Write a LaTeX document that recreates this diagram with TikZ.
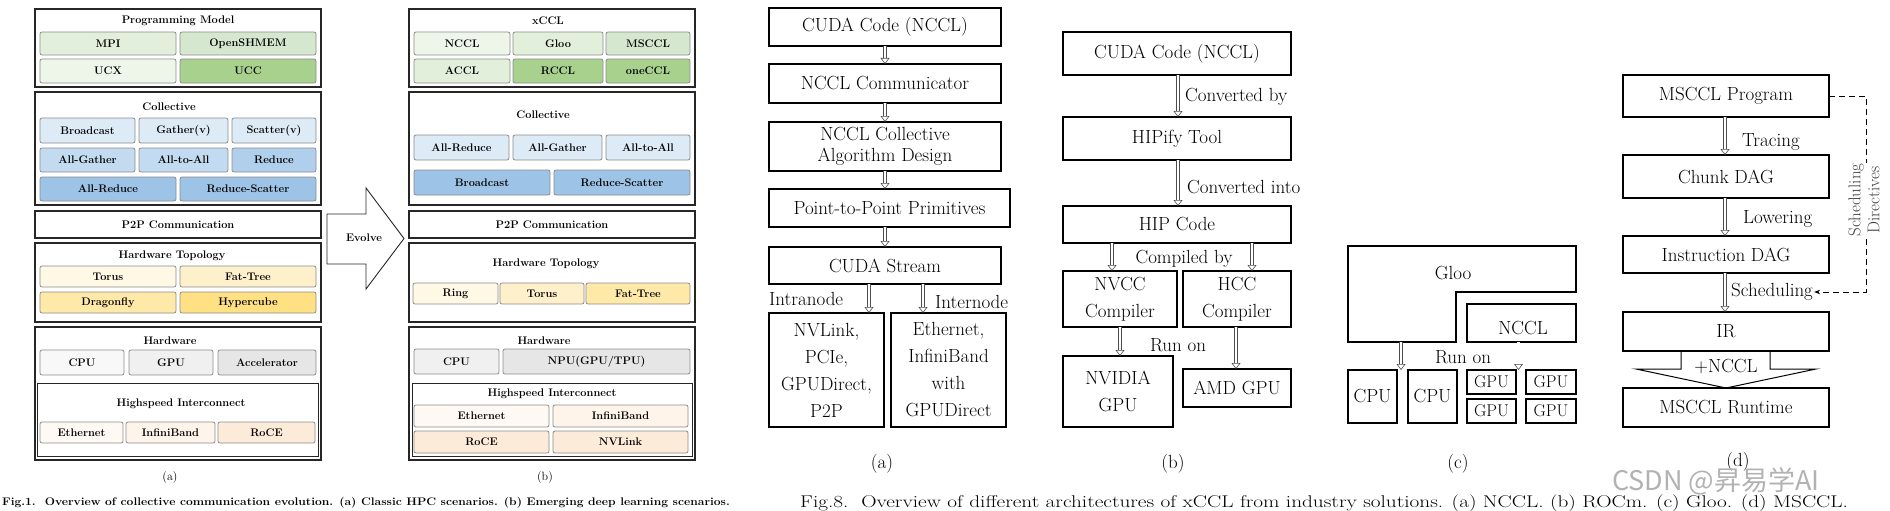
\documentclass[tikz,border=0pt]{standalone}
\usepackage{fontspec}
\usepackage{graphicx}
\newfontfamily\cjk{Noto Sans CJK SC}
\usetikzlibrary{arrows.meta,calc}
\definecolor{gA}{HTML}{E2EFDA}\definecolor{gB}{HTML}{D5E8CF}\definecolor{gC}{HTML}{EEF6EA}\definecolor{gD}{HTML}{A9D18E}
\definecolor{bA}{HTML}{DDEBF7}\definecolor{bB}{HTML}{C3DBF1}\definecolor{bC}{HTML}{B0CFEC}\definecolor{bD}{HTML}{9DC3E6}
\definecolor{yA}{HTML}{FFF8E5}\definecolor{yB}{HTML}{FFF0CC}\definecolor{yC}{HTML}{FFE9A8}\definecolor{yD}{HTML}{FFE083}
\definecolor{hA}{HTML}{F8F8F8}\definecolor{hB}{HTML}{F0F0F0}\definecolor{hC}{HTML}{E6E6E6}
\definecolor{oA}{HTML}{FFF9F3}\definecolor{oB}{HTML}{FFF4EA}\definecolor{oC}{HTML}{FDEBD9}
\tikzset{
 cell/.style={draw=black!45,line width=0.8pt,rounded corners=2pt,inner sep=0pt,outer sep=0pt,font=\fontsize{11}{13}\selectfont\bfseries},
 obox/.style={draw=black!85,line width=1.2pt,inner sep=0pt,outer sep=0pt},
 ttl/.style={font=\fontsize{11}{13}\selectfont\bfseries,inner sep=0pt},
 fbox/.style={draw=black,line width=1.2pt,inner sep=0pt,outer sep=0pt,align=center,font=\fontsize{19}{27}\selectfont},
 lbl/.style={font=\fontsize{19}{23}\selectfont,inner sep=0pt},
 harrow/.style={draw=black!70,line width=0.6pt,double=white,double distance=2.2pt,-{Triangle[open,length=6pt,width=9pt,line width=0.6pt]}},
}
% \cel{name}{x1}{y1}{x2}{y2}{style}{text}
\newcommand\cel[7]{\node[#6,minimum width={(#4-#2)*1pt},minimum height={(#5-#3)*1pt},anchor=north west] (#1) at (#2,#3) {#7};}
\begin{document}
\begin{tikzpicture}[x=1pt,y=-1pt]
\useasboundingbox (0,0) rectangle (1890,511);
% ---------------- Fig 1 (a)
\cel{pm}{35}{9}{321}{87}{obox}{}
\node[ttl] (pmt) at (178,21) {Programming Model};
\cel{mpi}{40}{32}{176}{55}{cell,fill=gA}{MPI}
\cel{osh}{180}{32}{316}{55}{cell,fill=gB}{OpenSHMEM}
\cel{ucx}{40}{59}{176}{83}{cell,fill=gC}{UCX}
\cel{ucc}{180}{59}{316}{83}{cell,fill=gD}{UCC}
\cel{co}{35}{92}{321}{205}{obox}{}
\node[ttl] (cot) at (169,107) {Collective};
\cel{bc}{40}{118}{135}{143}{cell,fill=bA}{Broadcast}
\cel{ga}{139}{118}{228}{143}{cell,fill=bA}{Gather(v)}
\cel{sc}{232}{118}{316}{143}{cell,fill=bA}{Scatter(v)}
\cel{ag}{40}{148}{135}{172}{cell,fill=bB}{All-Gather}
\cel{aa}{139}{148}{228}{172}{cell,fill=bB}{All-to-All}
\cel{rd}{232}{148}{316}{172}{cell,fill=bC}{Reduce}
\cel{ar}{40}{177}{176}{201}{cell,fill=bD}{All-Reduce}
\cel{rs}{180}{177}{316}{201}{cell,fill=bD}{Reduce-Scatter}
\cel{pp}{35}{211}{321}{238}{obox,font=\fontsize{11}{13}\selectfont\bfseries}{P2P Communication}
\cel{ht}{35}{243}{321}{322}{obox}{}
\node[ttl] (htt) at (172,256) {Hardware Topology};
\cel{to}{40}{266}{176}{287}{cell,fill=yA}{Torus}
\cel{ft}{180}{266}{316}{287}{cell,fill=yB}{Fat-Tree}
\cel{df}{40}{292}{176}{313}{cell,fill=yC}{Dragonfly}
\cel{hc}{180}{292}{316}{313}{cell,fill=yD}{Hypercube}
\cel{hw}{35}{327}{321}{460}{obox}{}
\node[ttl] (hwt) at (170,341) {Hardware};
\cel{cpu}{40}{350}{124}{375}{cell,fill=hA}{CPU}
\cel{gpu}{129}{350}{213}{375}{cell,fill=hB}{GPU}
\cel{acc}{218}{350}{316}{375}{cell,fill=hC}{Accelerator}
\cel{hs}{37}{383}{318}{456}{obox,line width=1pt}{}
\node[ttl] (hst) at (181,404) {Highspeed Interconnect};
\cel{eth}{40}{422}{123}{443}{cell,fill=oA}{Ethernet}
\cel{ib}{126}{422}{215}{443}{cell,fill=oB}{InfiniBand}
\cel{roce}{218}{422}{315}{443}{cell,fill=oC}{RoCE}
\node[ttl,font=\fontsize{12}{14}\selectfont] (la) at (170,478) {(a)};
% Evolve arrow
\draw[line width=0.9pt,draw=black!85] (327,214) -- (366,214) -- (366,188) -- (404,238.5) -- (366,289) -- (366,264) -- (327,264) -- cycle;
\node[ttl] (ev) at (364,238) {Evolve};
% ---------------- Fig 1 (b)
\cel{xc}{409}{9}{695}{87}{obox}{}
\node[ttl] (xct) at (548,21) {xCCL};
\cel{nc}{414}{32}{510}{55}{cell,fill=gC}{NCCL}
\cel{gl}{513}{32}{603}{55}{cell,fill=gA}{Gloo}
\cel{ms}{606}{32}{690}{55}{cell,fill=gB}{MSCCL}
\cel{ac}{414}{59}{510}{83}{cell,fill=gA}{ACCL}
\cel{rc}{513}{59}{603}{83}{cell,fill=gD}{RCCL}
\cel{one}{606}{59}{690}{83}{cell,fill=gD}{oneCCL}
\cel{cob}{409}{92}{695}{205}{obox}{}
\node[ttl] (cobt) at (543,115) {Collective};
\cel{arb}{414}{135}{509}{160}{cell,fill=bA}{All-Reduce}
\cel{agb}{513}{135}{602}{160}{cell,fill=bA}{All-Gather}
\cel{aab}{606}{135}{690}{160}{cell,fill=bA}{All-to-All}
\cel{bcb}{414}{170}{550}{195}{cell,fill=bD}{Broadcast}
\cel{rsb}{554}{170}{690}{195}{cell,fill=bD}{Reduce-Scatter}
\cel{ppb}{409}{211}{695}{238}{obox,font=\fontsize{11}{13}\selectfont\bfseries}{P2P Communication}
\cel{htb}{409}{243}{695}{322}{obox}{}
\node[ttl] (htbt) at (546,264) {Hardware Topology};
\cel{ri}{413}{283}{498}{304}{cell,fill=yA}{Ring}
\cel{tob}{500}{283}{584}{304}{cell,fill=yB}{Torus}
\cel{ftb}{586}{283}{690}{304}{cell,fill=yC}{Fat-Tree}
\cel{hwb}{409}{327}{695}{460}{obox}{}
\node[ttl] (hwbt) at (544,341) {Hardware};
\cel{cpub}{414}{349}{499}{374}{cell,fill=hB}{CPU}
\cel{npu}{503}{349}{690}{374}{cell,fill=hC}{NPU(GPU/TPU)}
\cel{hsb}{412}{383}{692}{456}{obox,line width=1pt}{}
\node[ttl] (hsbt) at (552,394) {Highspeed Interconnect};
\cel{ethb}{414}{405}{549}{427}{cell,fill=oA}{Ethernet}
\cel{ibb}{553}{405}{688}{427}{cell,fill=oB}{InfiniBand}
\cel{roceb}{414}{431}{549}{453}{cell,fill=oC}{RoCE}
\cel{nvl}{553}{431}{688}{453}{cell,fill=oC}{NVLink}
\node[ttl,font=\fontsize{12}{14}\selectfont] (lb) at (545,478) {(b)};
\node[anchor=west,inner sep=0pt,font=\fontsize{11}{13}\selectfont\bfseries] (cap1) at (2,503) {\scalebox{1.1}[1]{Fig.1.\ \ Overview of collective communication evolution. (a) Classic HPC scenarios. (b) Emerging deep learning scenarios.}};
% ---------------- Fig 8 (a)
\cel{a1}{769}{8}{1001}{46}{fbox}{CUDA Code (NCCL)}
\cel{a2}{769}{64}{1001}{103}{fbox}{NCCL Communicator}
\cel{a3}{769}{122}{1001}{171}{fbox,font=\fontsize{19}{21}\selectfont}{NCCL Collective\\Algorithm Design}
\cel{a4}{769}{189}{1010}{227}{fbox}{Point-to-Point Primitives}
\cel{a5}{769}{247}{1001}{284}{fbox}{CUDA Stream}
\cel{a6}{769}{313}{884}{427}{fbox}{NVLink,\\PCIe,\\GPUDirect,\\P2P}
\cel{a7}{891}{313}{1006}{427}{fbox}{Ethernet,\\InfiniBand\\with\\GPUDirect}
\draw[harrow] (a1.south) -- (a2.north);
\draw[harrow] (a2.south) -- (a3.north);
\draw[harrow] (a3.south) -- (a3.south |- a4.north);
\draw[harrow] (a3.south |- a4.south) -- (a5.north);
\draw[harrow] ([xshift=-16pt]a5.south) -- ([xshift=-16pt]a5.south |- a6.north);
\draw[harrow] ([xshift=38pt]a5.south) -- ([xshift=38pt]a5.south |- a7.north);
\node[lbl,anchor=west] (intra) at (769,299) {Intranode};
\node[lbl,anchor=west] (inter) at (935,302) {Internode};
\node[lbl] (fa) at (882,464) {(a)};
% ---------------- Fig 8 (b)
\cel{b1}{1063}{32}{1291}{75}{fbox}{CUDA Code (NCCL)}
\cel{b2}{1063}{117}{1291}{160}{fbox}{HIPify Tool}
\cel{b3}{1063}{206}{1291}{243}{fbox}{HIP Code}
\cel{b4}{1063}{271}{1177}{327}{fbox}{NVCC\\Compiler}
\cel{b5}{1183}{271}{1291}{327}{fbox}{HCC\\Compiler}
\cel{b6}{1063}{356}{1173}{427}{fbox}{NVIDIA\\GPU}
\cel{b7}{1183}{369}{1291}{407}{fbox}{AMD GPU}
\draw[harrow] ([xshift=1pt]b1.south) -- ([xshift=1pt]b2.north);
\draw[harrow] ([xshift=1pt]b2.south) -- ([xshift=1pt]b3.north);
\draw[harrow] ([xshift=-65pt]b3.south) -- ([xshift=-65pt]b3.south |- b4.north);
\draw[harrow] ([xshift=75pt]b3.south) -- ([xshift=75pt]b3.south |- b4.north);
\draw[harrow] ([xshift=0pt]b4.south) -- ([xshift=0pt]b4.south |- b6.north);
\draw[harrow] ([xshift=-1pt]b5.south) -- ([xshift=-1pt]b5.south |- b7.north);
\node[lbl,anchor=west] (cv1) at (1185,97) {Converted by};
\node[lbl,anchor=west] (cv2) at (1187,187) {Converted into};
\node[lbl] (cmp) at (1184,259) {Compiled by};
\node[lbl] (run1) at (1178,345) {Run on};
\node[lbl] (fb) at (1173,464) {(b)};
% ---------------- Fig 8 (c)
\draw[line width=1.2pt] (1348,246) -- (1576,246) -- (1576,292) -- (1456,292) -- (1456,342) -- (1348,342) -- cycle;
\node[lbl] (gloo) at (1453,273) {Gloo};
\cel{c1}{1467}{304}{1576}{342}{fbox}{}
\node[lbl] (ncclc) at (1523,328) {NCCL};
\cel{c2}{1348}{370}{1397}{423}{fbox}{CPU}
\cel{c3}{1408}{370}{1457}{423}{fbox}{CPU}
\cel{c4}{1467}{370}{1516}{394}{fbox,font=\fontsize{17}{19}\selectfont}{GPU}
\cel{c5}{1526}{370}{1576}{394}{fbox,font=\fontsize{17}{19}\selectfont}{GPU}
\cel{c6}{1467}{399}{1516}{423}{fbox,font=\fontsize{17}{19}\selectfont}{GPU}
\cel{c7}{1526}{399}{1576}{423}{fbox,font=\fontsize{17}{19}\selectfont}{GPU}
\coordinate (gl) at (1401,342);
\draw[harrow] (gl) -- (gl |- c2.north);
\draw[harrow] ([xshift=-3pt]c1.south) -- ([xshift=-3pt]c1.south |- c5.north);
\node[lbl] (run2) at (1463,357) {Run on};
\node[lbl] (fc) at (1458,464) {(c)};
% ---------------- Fig 8 (d)
\cel{d1}{1623}{75}{1829}{117}{fbox}{MSCCL Program}
\cel{d2}{1623}{155}{1829}{198}{fbox}{Chunk DAG}
\cel{d3}{1623}{236}{1829}{273}{fbox}{Instruction DAG}
\cel{d4}{1623}{312}{1829}{351}{fbox}{IR}
\cel{d5}{1623}{388}{1829}{427}{fbox}{MSCCL Runtime}
\draw[harrow] ([xshift=-1pt]d1.south) -- ([xshift=-1pt]d2.north);
\draw[harrow] ([xshift=-1pt]d2.south) -- ([xshift=-1pt]d3.north);
\draw[harrow] ([xshift=-1pt]d3.south) -- ([xshift=-1pt]d4.north);
\node[lbl,anchor=west] (tr) at (1742,142) {Tracing};
\node[lbl,anchor=west] (lw) at (1743,219) {Lowering};
\node[lbl,anchor=west,inner sep=1pt] (sch) at (1730,292) {Scheduling};
\draw[line width=1pt] (1681,351) -- (1681,369) -- (1636,369) -- (1726,388) -- (1816,369) -- (1770,369) -- (1770,351);
\node[lbl] (pn) at (1726,366) {+NCCL};
\draw[line width=1pt,dashed,dash pattern=on 6pt off 4pt,-{Stealth[length=6pt]}] (d1.east) -- (1866,96) -- (1866,292) -- (sch.east);
\node[lbl,rotate=90,align=center,fill=white,text=black!75,font=\fontsize{17}{19}\selectfont] (sd) at (1864,200) {Scheduling\\Directives};
\node[lbl] (fd) at (1738,462) {(d)};
\node[anchor=west,inner sep=0pt,font=\fontsize{17}{20}\selectfont] (cap8) at (800,503) {\scalebox{1.25}[1]{Fig.8.\ \ Overview of different architectures of xCCL from industry solutions. (a) NCCL. (b) ROCm. (c) Gloo. (d) MSCCL.}};
\node[anchor=west,inner sep=0pt,text=black!30,font=\cjk\fontsize{27}{30}\selectfont] (wm) at (1612,481) {CSDN @昇易学AI};
\end{tikzpicture}
\end{document}
